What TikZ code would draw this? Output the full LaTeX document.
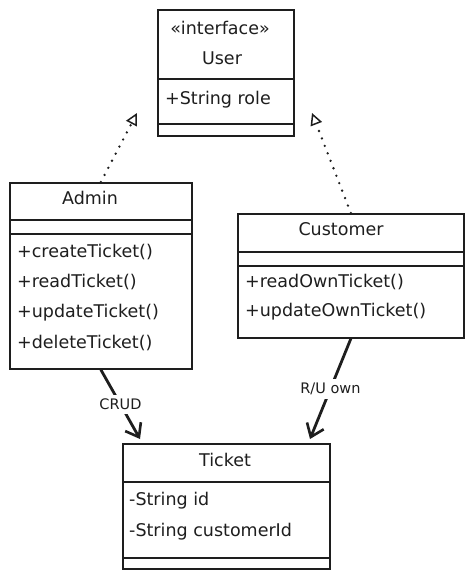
\documentclass[tikz,border=0pt]{standalone}
\usepackage{fontspec}
\setmainfont{DejaVu Sans}
\usetikzlibrary{arrows.meta,calc}
\definecolor{ink}{HTML}{1E1E1E}
\tikzset{
  umlbox/.style={draw=ink, line width=1.7pt, fill=white, anchor=north west, inner sep=0pt},
  divider/.style={draw=ink, line width=1.5pt},
  title/.style={text=ink, font=\fontsize{17.5}{20}\selectfont, inner sep=0pt},
  member/.style={text=ink, font=\fontsize{17.5}{20}\selectfont, inner sep=0pt, anchor=west},
  realize/.style={draw=ink, line width=2.6pt, line cap=round, dash pattern=on 0pt off 8pt,
    -{Triangle[open, length=12pt, width=12pt, line width=1.5pt]}},
  assoc/.style={draw=ink, line width=2.8pt,
    -{Straight Barb[length=12pt, width=18pt, line width=2.6pt]}},
  lbl/.style={text=ink, font=\fontsize{14.5}{16}\selectfont, fill=white, inner sep=4pt}
}
\begin{document}
\begin{tikzpicture}[x=1pt,y=-1pt]
\fill[white] (0,0) rectangle (474,577);
\useasboundingbox (0,0) rectangle (474,577);

% User
\node[umlbox, minimum width=136pt, minimum height=126pt] (user) at (157,9) {};
\draw[divider] (157,79) -- (293,79);
\draw[divider] (157,124) -- (293,124);
\node[title] (userst) at (220,28) {«interface»};
\node[title] (username) at (222,58) {User};
\node[member] (userrole) at (165,100) {+String role};

% Admin
\node[umlbox, minimum width=182pt, minimum height=186pt] (admin) at (9,182) {};
\draw[divider] (9,220) -- (191,220);
\draw[divider] (9,234) -- (191,234);
\node[title] (adminname) at (90,198) {Admin};
\node[member] (am1) at (17,252) {+createTicket()};
\node[member] (am2) at (17,282) {+readTicket()};
\node[member] (am3) at (17,313) {+updateTicket()};
\node[member] (am4) at (17,343) {+deleteTicket()};

% Customer
\node[umlbox, minimum width=226pt, minimum height=124pt] (cust) at (237,213) {};
\draw[divider] (237,252) -- (463,252);
\draw[divider] (237,266) -- (463,266);
\node[title] (custname) at (341,229) {Customer};
\node[member] (cm1) at (245,282) {+readOwnTicket()};
\node[member] (cm2) at (245,312) {+updateOwnTicket()};

% Ticket
\node[umlbox, minimum width=207pt, minimum height=125pt] (ticket) at (122,443) {};
\draw[divider] (122,482) -- (329,482);
\draw[divider] (122,558) -- (329,558);
\node[title] (ticketname) at (225,460) {Ticket};
\node[member] (ta1) at (129,501) {-String id};
\node[member] (ta2) at (129,532) {-String customerId};

% connectors
\coordinate (ua) at (137,113);
\coordinate (ub) at (312,113);
\draw[realize] (admin.north) -- (ua);
\draw[realize] (cust.north) -- (ub);

\coordinate (ta) at (140,439);
\coordinate (tb) at (310,439);
\draw[assoc] (admin.south) -- node[lbl] (crud) {CRUD} (ta);
\draw[assoc] (cust.south) -- node[lbl] (ru) {R/U own} (tb);
\end{tikzpicture}
\end{document}
